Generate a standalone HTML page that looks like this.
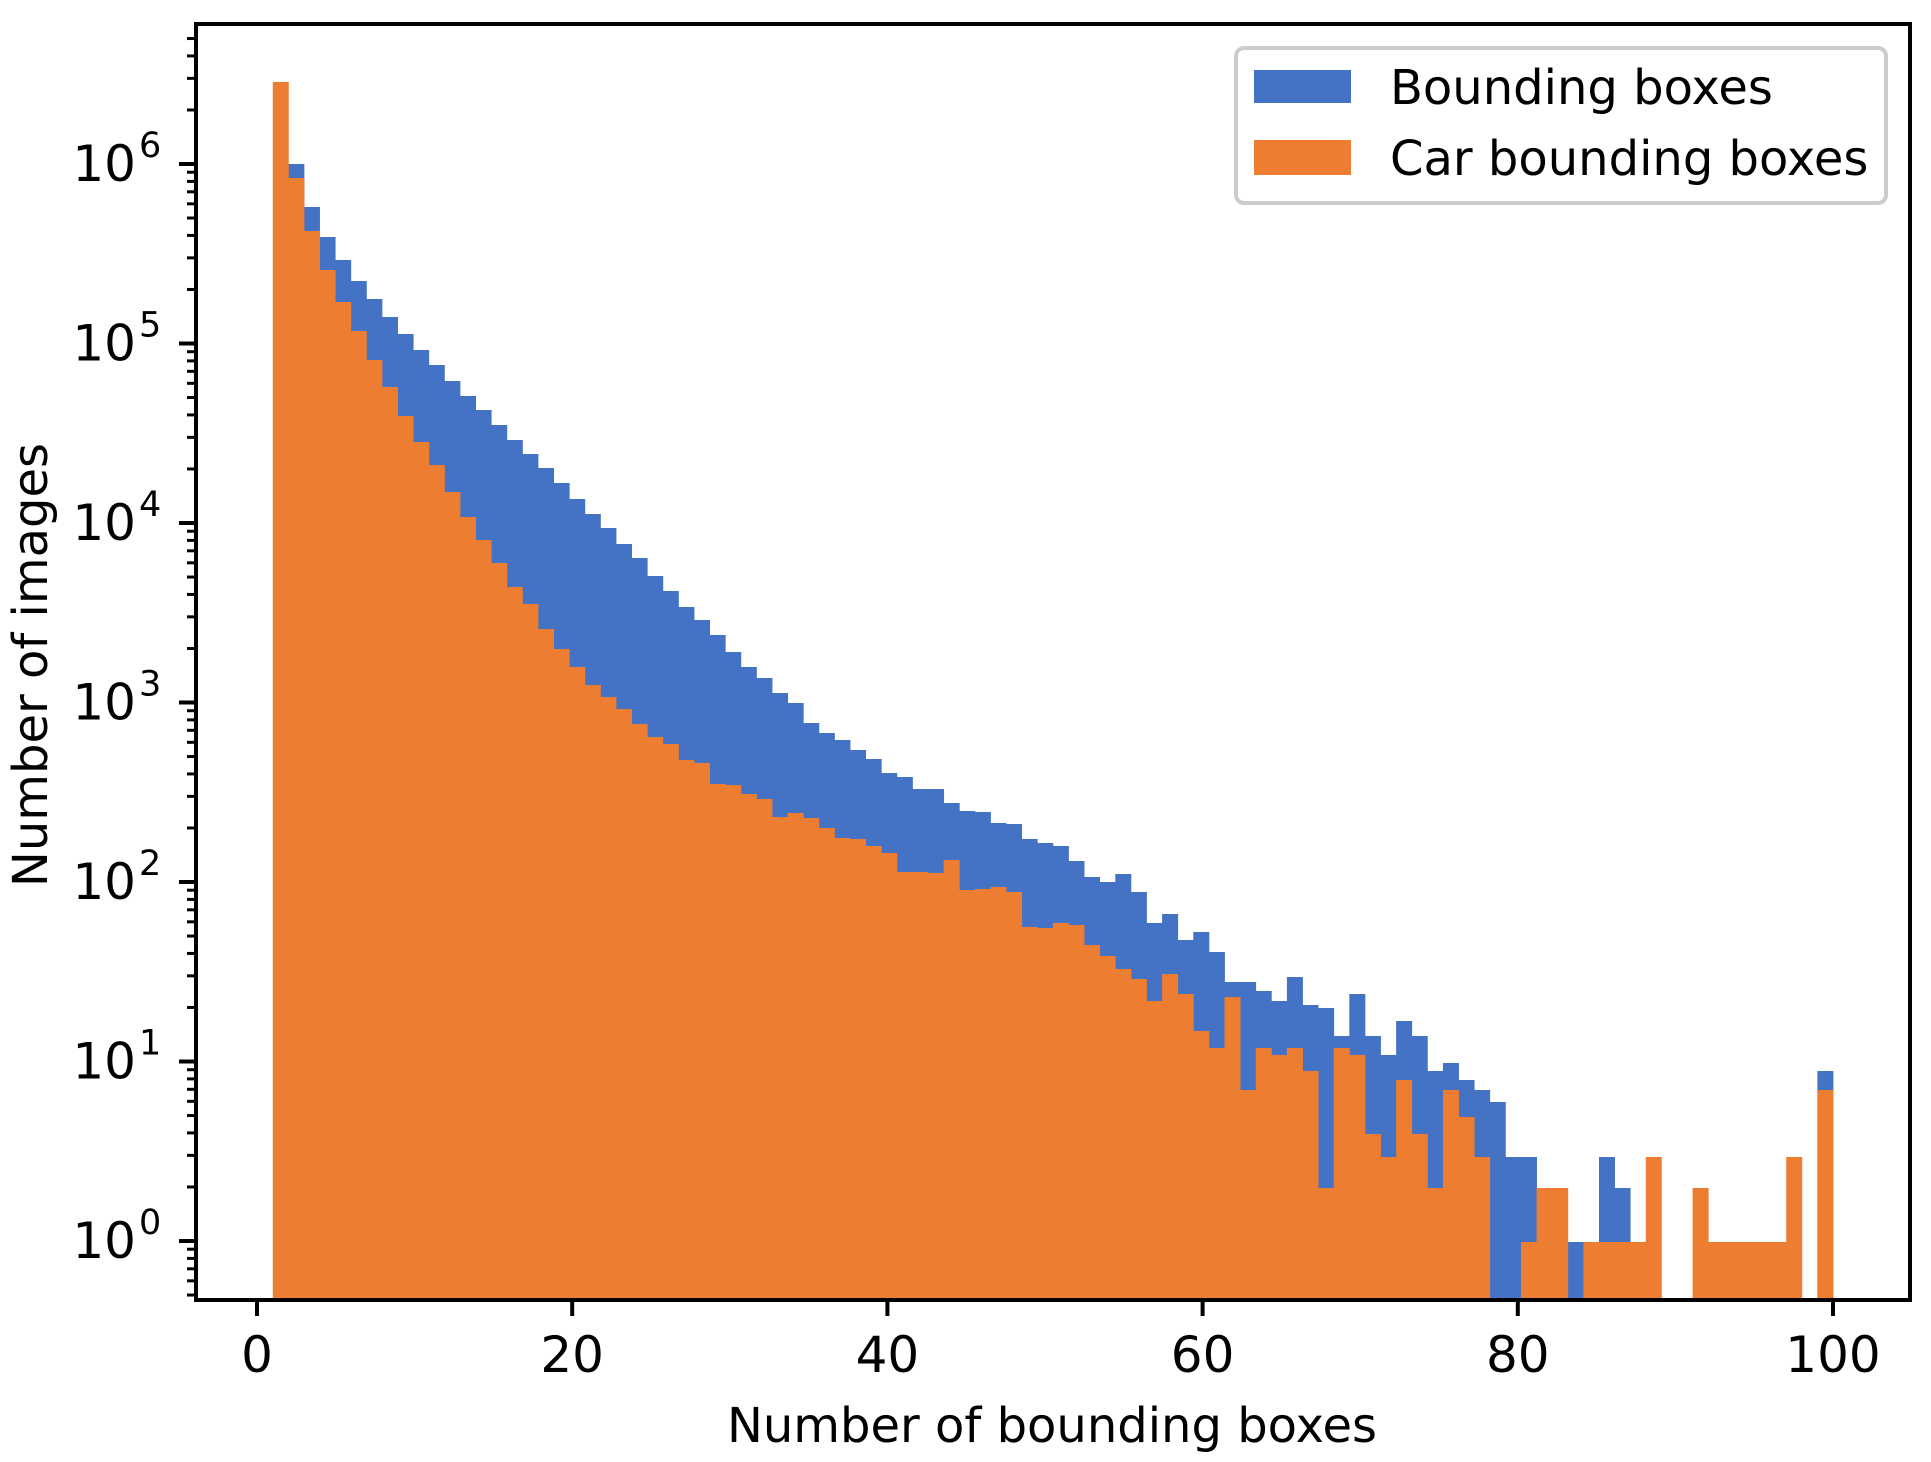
<!DOCTYPE html>
<html><head><meta charset="utf-8"><style>
html,body{margin:0;padding:0;background:#fff;}
svg{display:block;font-family:"DejaVu Sans","Liberation Sans",sans-serif;}
</style></head><body>
<svg id="s" width="1931" height="1462" viewBox="0 0 1931 1462" xmlns="http://www.w3.org/2000/svg"></svg>
<script>
var B=[null,164,207,237,260,281,299,317,334,350,365,381,396,410,425,440,454,468,483,499,
514,528,544,558,576,591,607,620,635,652,667,678,693,703,723,733,740,750,759,
773,777,789,789,803,811,812,823,824,839,843,846,861,877,882,874,892,
923,914,940,932,952,982,982,991,1001,977,1005,1008,1036,994,1036,1055,1021,1036,1071,1063,1080,1090,1102,1157,1157,
1188,null,1242,null,1157,1188,null,null,null,null,null,null,null,null,null,null,null,null,1071];
var O=[82,178,231,270,302,331,360,387,416,442,465,492,517,540,563,587,604,629,649,667,
685,697,709,724,737,744,760,763,784,785,794,799,817,813,818,828,838,839,846,
853,872,872,873,860,890,889,887,892,927,928,923,925,945,956,969,979,
1001,974,994,1031,1048,997,1090,1048,1055,1048,1071,1188,1048,1055,1134,1157,1080,1134,1188,1090,1117,1157,null,null,1242,
1188,1188,null,1242,1242,1242,1242,1157,null,null,1188,1242,1242,1242,1242,1242,1157,null,1090];
var L=196,R=1910,T=24,BOT=1300;
function X(u){return 257+15.76*u;}
function Y(l){return 1241-179.5*l;}
var h='';
function bars(arr,col){
 for(var k=0;k<100;k++){var t=arr[k];if(t==null)continue;
  var x0=X(1+k*0.99),x1=X(1+(k+1)*0.99);
  h+='<rect x="'+x0.toFixed(2)+'" y="'+t+'" width="'+(x1-x0+0.4).toFixed(2)+'" height="'+(BOT-t)+'" fill="'+col+'"/>';}
}
bars(B,'#4472C4');bars(O,'#ED7D31');
h+='<rect x="'+L+'" y="'+T+'" width="'+(R-L)+'" height="'+(BOT-T)+'" fill="none" stroke="#000" stroke-width="4"/>';
for(var v=0;v<=100;v+=20){var x=X(v);
 h+='<line x1="'+x+'" y1="'+BOT+'" x2="'+x+'" y2="'+(BOT+16)+'" stroke="#000" stroke-width="4"/>';
 h+='<text x="'+x+'" y="1372" font-size="50" text-anchor="middle">'+v+'</text>';}
for(var d=-1;d<=6;d++){
 for(var m=1;m<10;m++){var l=d+Math.log10(m);var y=Y(l);if(y>BOT-1||y<T+1)continue;
  if(m==1){h+='<line x1="'+(L-17)+'" y1="'+y+'" x2="'+L+'" y2="'+y+'" stroke="#000" stroke-width="4"/>';
   h+='<text x="136" y="'+(y+17)+'" font-size="50" text-anchor="end">10</text>';
   h+='<text x="139" y="'+(y-7)+'" font-size="35">'+d+'</text>';}
  else h+='<line x1="'+(L-9)+'" y1="'+y+'" x2="'+L+'" y2="'+y+'" stroke="#000" stroke-width="3"/>';
 }}
h+='<text x="1052" y="1442" font-size="48" text-anchor="middle">Number of bounding boxes</text>';
h+='<text transform="translate(47,665) rotate(-90)" font-size="48" text-anchor="middle">Number of images</text>';
h+='<rect x="1236" y="48" width="650" height="155" rx="8" fill="#fff" fill-opacity="0.85" stroke="#ccc" stroke-width="4"/>';
h+='<rect x="1254" y="70" width="97" height="33" fill="#4472C4"/>';
h+='<rect x="1254" y="140" width="97" height="35" fill="#ED7D31"/>';
h+='<text x="1390" y="104" font-size="48">Bounding boxes</text>';
h+='<text x="1390" y="175" font-size="48">Car bounding boxes</text>';
document.getElementById('s').innerHTML=h;
</script>
</body></html>
